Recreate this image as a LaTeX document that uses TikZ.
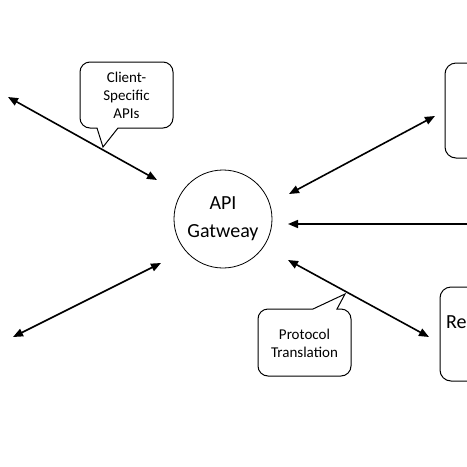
\documentclass[tikz,border=0pt]{standalone}
\usepackage{fontspec}
\setmainfont{Carlito}
\usetikzlibrary{arrows.meta}
\tikzset{
  link/.style={{Triangle[length=10pt,width=8pt]}-{Triangle[length=10pt,width=8pt]}, line width=1.6pt},
  feed/.style={-{Triangle[length=10pt,width=8pt]}, line width=1.6pt},
  gate/.style={draw, circle, line width=0.8pt, minimum size=98pt, inner sep=0pt, align=center, font=\fontsize{20}{28}\selectfont},
  note/.style={align=center, inner sep=0pt, font=\fontsize{15}{18}\selectfont},
  bubble/.style={line width=1pt, rounded corners=10pt},
  svc/.style={line width=1pt, rounded corners=11pt}
}
\begin{document}
\begin{tikzpicture}[x=1pt,y=-1pt]
        \useasboundingbox (0,0) rectangle (467,467);
        \clip (0,0) rectangle (467,467);
        % gateway
        \node [gate] (gw) at (223,219) {API\\Gatweay};
        % services (cut at the right edge)
        \draw [svc] (445,63) rectangle (500,158);
        \draw [svc] (440,287) rectangle (500,381);
        \node [anchor=west, inner sep=0pt, font=\fontsize{20}{24}\selectfont] (rest) at (446,322) {Re};
        % arrow ends
        \coordinate (cl1) at (8,97);
        \coordinate (gw1) at (157,180);
        \coordinate (cl2) at (13,337);
        \coordinate (gw2) at (161,263);
        \coordinate (sv1) at (435,116);
        \coordinate (gw3) at (289,194);
        \coordinate (sv2) at (480,224);
        \coordinate (gw4) at (288,224);
        \coordinate (sv3) at (429,337);
        \coordinate (gw5) at (288,260);
        % links
        \draw [link] (cl1) -- (gw1);
        \draw [link] (cl2) -- (gw2);
        \draw [link] (gw3) -- (sv1);
        \draw [feed] (sv2) -- (gw4);
        \draw [link] (gw5) -- (sv3);
        % client-specific APIs
        \draw [bubble] (118,128) -- (173,128) -- (173,62) -- (80,62) -- (80,128) [sharp corners] -- (97,128) -- (103,147) -- cycle;
        \node [note] (capi) at (126.5,95) {Client-\\Specific\\APIs};
        % protocol translation
        \draw [bubble] (313,309) -- (258,309) -- (258,376) -- (351,376) -- (351,309) [sharp corners] -- (337,309) -- (345,294) -- cycle;
        \node [note] (prot) at (304.5,343) {Protocol\\Translation};
    \end{tikzpicture}
\end{document}
